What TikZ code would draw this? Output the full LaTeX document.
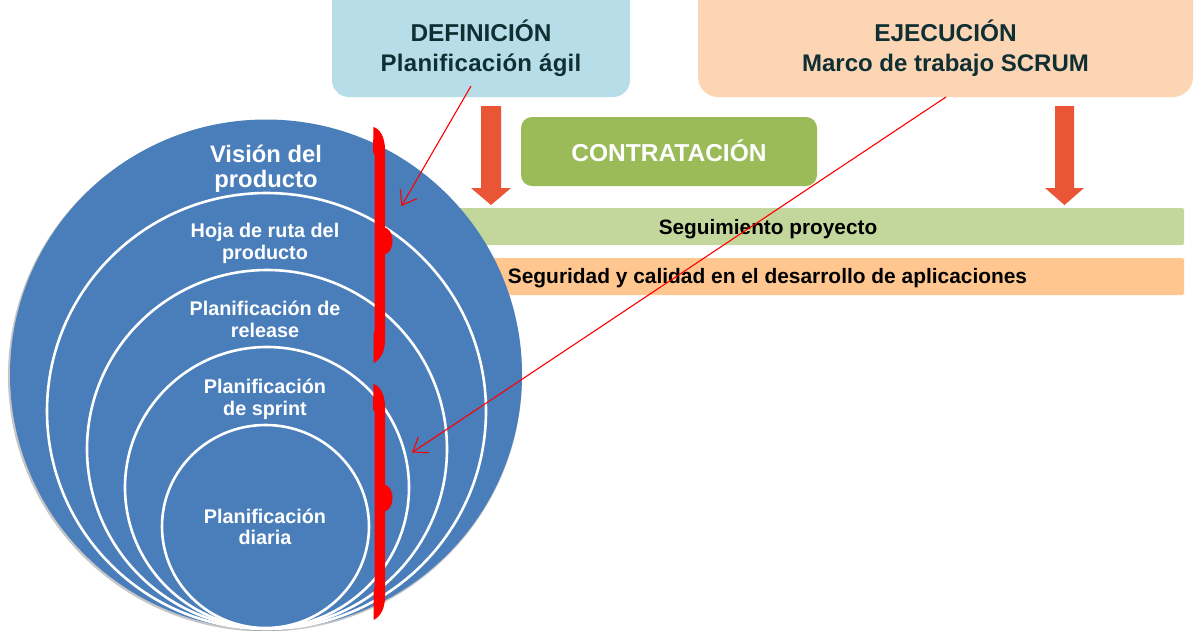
\documentclass[tikz,border=0pt]{standalone}
\usepackage{fontspec}
\setmainfont{Liberation Sans}
\newfontfamily\spacedfont[LetterSpace=1.2]{Liberation Sans}
\usetikzlibrary{arrows.meta}
\definecolor{discblue}{HTML}{4A7EBB}
\definecolor{defblue}{HTML}{B7DEE8}
\definecolor{ejepeach}{HTML}{FCD5B5}
\definecolor{contgreen}{HTML}{9BBB59}
\definecolor{seggreen}{HTML}{C3D69B}
\definecolor{calorange}{HTML}{FFC78F}
\definecolor{arrowred}{HTML}{E95535}
\definecolor{headtext}{HTML}{0F2F33}
\tikzset{
  discring/.style={draw=white,line width=2.6pt,fill=discblue},
  disctext/.style={text=white,font=\fontsize{19.8}{21.5}\selectfont\bfseries,align=center,inner sep=0pt},
  headtxt/.style={text=headtext,font=\fontsize{24.4}{30}\selectfont\bfseries,align=center,inner sep=0pt},
  bartext/.style={text=black,inner sep=0pt},
  blockarrow/.style={fill=arrowred,draw=none},
  redblob/.style={fill=red,draw=none},
  pointer/.style={draw=red,line width=1.1pt,-{Straight Barb[length=13pt,width=19pt,line width=1.1pt]}}
}
\begin{document}
\begin{tikzpicture}[x=1pt,y=-1pt]
\useasboundingbox (0,0) rectangle (1200,630);
\fill[white] (0,0) rectangle (1200,630);
% bars
\fill[seggreen,rounded corners=2pt] (440,208) rectangle (1184,245);
\fill[calorange,rounded corners=2pt] (440,258) rectangle (1184,295);
\node[bartext,font=\fontsize{20.8}{24}\selectfont\bfseries] (seg) at (768,229) {Seguimiento proyecto};
\node[bartext,font=\fontsize{20.9}{24}\selectfont\bfseries] (cal) at (767.5,278) {Seguridad y calidad en el desarrollo de aplicaciones};
% header boxes
\fill[defblue,rounded corners=17pt] (332,-20) rectangle (630,97);
\fill[ejepeach,rounded corners=20pt] (698,-20) rectangle (1193,97);
\fill[contgreen,rounded corners=11pt] (521,117) rectangle (817,186);
\node[headtxt] (def) at (481,48) {DEFINICIÓN\\{\fontsize{24}{30}\spacedfont\bfseries Planificación ágil}};
\node[headtxt] (eje) at (945.5,48) {EJECUCIÓN\\{\fontsize{24}{30}\selectfont Marco de trabajo SCRUM}};
\node[text=white,font=\fontsize{24.5}{28}\selectfont\bfseries,inner sep=0pt] (con) at (669,150.5) {CONTRATACIÓN};
% block arrows
\fill[blockarrow] (481,106) -- (501,106) -- (501,188) -- (511,188) -- (491,205) -- (471,188) -- (481,188) -- cycle;
\fill[blockarrow] (1055,106) -- (1074,106) -- (1074,188) -- (1084,188) -- (1064.5,205) -- (1045,188) -- (1055,188) -- cycle;
% discs
\fill[gray!45] (265,376) ellipse[x radius=257,y radius=255.5];
\fill[gray!80] (266,377) ellipse[x radius=200,y radius=254];
\fill[discblue] (266,374.5) ellipse[x radius=256,y radius=255];
\draw[discring] (266.5,411) ellipse[x radius=219.5,y radius=218];
\draw[discring] (267,449) ellipse[x radius=180,y radius=179];
\draw[discring] (267,487.5) ellipse[x radius=142,y radius=140.5];
\draw[discring] (265.5,526.5) ellipse[x radius=103.5,y radius=101.5];
\node[disctext,font=\fontsize{23.8}{25}\selectfont\bfseries] (t0) at (266,168.5) {Visión del\\producto};
\node[disctext] (t1) at (265,243.5) {Hoja de ruta del\\producto};
\node[disctext] (t2) at (265,319.5) {Planificación de\\release};
\node[disctext] (t3) at (265,399.5) {Planificación\\de sprint};
\node[disctext] (t4) at (265,527) {Planificación\\diaria};
% red marks
\fill[redblob] (373.5,127) .. controls (380,129) and (385,137) .. (385,150) -- (385,340) .. controls (385,352) and (380,360) .. (373.5,363) -- (373.5,335) -- (374.5,330) -- (374.5,155) -- (373,152) -- cycle;
\fill[redblob] (384,241) ellipse[x radius=8.5,y radius=13.5];
\fill[redblob] (373.5,384) .. controls (380,386) and (385,394) .. (385,407) -- (385,597) .. controls (385,609) and (380,617) .. (373.5,620) -- (373.5,592) -- (374.5,587) -- (374.5,412) -- (373,409) -- cycle;
\fill[redblob] (384,498) ellipse[x radius=8.5,y radius=13.5];
% pointers
\coordinate (p1s) at (471,86);
\coordinate (p1e) at (401.5,206);
\coordinate (p2s) at (946,97);
\coordinate (p2e) at (412,452.5);
\draw[pointer] (p1s) -- (p1e);
\draw[pointer] (p2s) -- (p2e);
\end{tikzpicture}
\end{document}
